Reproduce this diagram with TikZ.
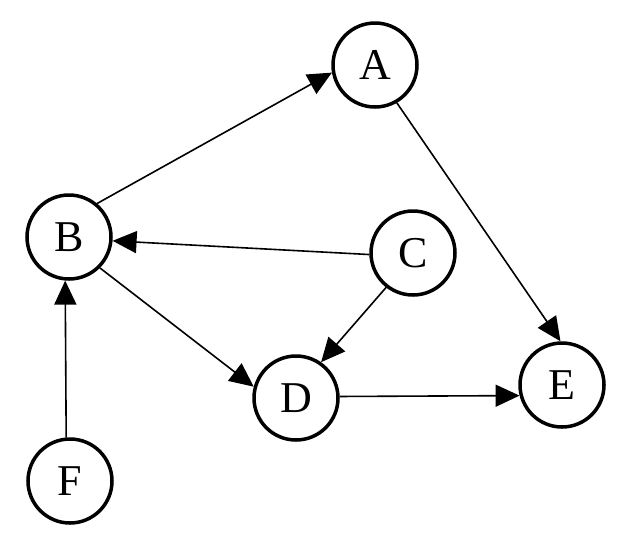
\documentclass[tikz,border=0pt]{standalone}
\usepackage{fontspec}
\setmainfont{Liberation Serif}
\usetikzlibrary{arrows.meta}
\begin{document}
\begin{tikzpicture}[x=1pt,y=-1pt,
  vertex/.style={circle,draw,line width=3.5pt,minimum size=84pt,inner sep=0pt,
    font=\fontsize{44}{44}\selectfont},
  edge/.style={line width=1.6pt,-{Triangle[length=24pt,width=22pt]}}]
\useasboundingbox (0,0) rectangle (628,542);
\node[vertex] (A) at (375,65) {A};
\node[vertex] (B) at (69,237) {B};
\node[vertex] (C) at (413,253) {C};
\node[vertex] (D) at (296,398) {D};
\node[vertex] (E) at (562,385) {E};
\node[vertex] (F) at (70,481) {F};
\draw[edge] (B.50) -- (A.190);
\draw[edge] (A.-60) -- (E.92);
\draw[edge] (C.182) -- (B.-5);
\draw[edge] (C.-128) -- (D.55);
\draw[edge] (B.-45) -- (D.165);
\draw[edge] (D.2) -- (E.194);
\draw[edge] (F.95) -- (B.-95);
\end{tikzpicture}
\end{document}
